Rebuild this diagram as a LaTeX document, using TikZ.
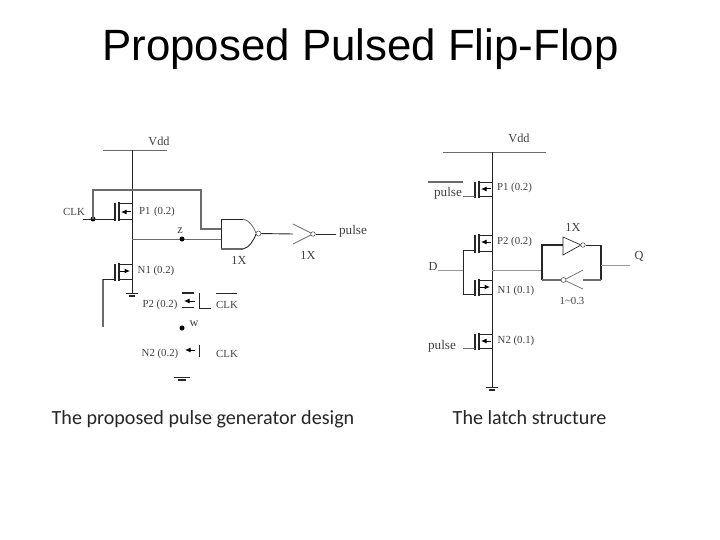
\documentclass[tikz,border=0pt]{standalone}
\usepackage{fontspec}
\setmainfont{Liberation Serif}
\newfontfamily\titlefont{Liberation Sans}
\newfontfamily\capfont{Carlito}
\usetikzlibrary{arrows.meta}
\definecolor{wiregray}{gray}{0.42}
\definecolor{lightwire}{gray}{0.6}
\definecolor{labelgray}{gray}{0.25}
\tikzset{
  wire/.style={draw=black!85,line width=0.9pt},
  thin wire/.style={draw=lightwire,line width=0.8pt},
  thick wire/.style={draw=wiregray,line width=1.4pt},
  bubble/.style={draw=black!70,fill=white,line width=0.5pt},
  tiparrow/.style={draw=black,line width=1pt,-{Latex[length=5.5pt,width=5pt]}},
  lbl/.style={font=\fontsize{12.3}{14}\selectfont,text=labelgray,inner sep=0pt},
  biglbl/.style={font=\fontsize{13.2}{15}\selectfont,text=labelgray,inner sep=0pt},
  fetlbl/.style={font=\fontsize{10.8}{13}\selectfont,text=labelgray,inner sep=0pt},
  dotnode/.style={circle,fill=black,inner sep=0pt,minimum size=5pt},
  captiontext/.style={font=\capfont\fontsize{20.1}{24}\selectfont,text=black!85,inner sep=0pt,anchor=base},
  titletext/.style={font=\titlefont\fontsize{43.8}{50}\selectfont,inner sep=0pt,anchor=base}
}
\newcommand{\fetbody}[4]{%
  \draw[wire] (#1-13,#2) -- (#1,#2) (#1-13,#3) -- (#1,#3);
  \draw[wire,line width=1.1pt] (#1-13,#2-1) -- (#1-13,#3+2);
  \draw[wire,line width=1.1pt] (#1-17,#2) -- (#1-17,#3+2);
  #4
}
\begin{document}
\begin{tikzpicture}[x=1pt,y=-1pt]
\useasboundingbox (0,0) rectangle (720,540);
\fill[white] (0,0) rectangle (720,540);

\node[titletext] (title) at (360.5,61) {Proposed Pulsed Flip-Flop};
\node[captiontext] (capA) at (203,424) {The proposed pulse generator design};
\node[captiontext] (capB) at (529.5,424) {The latch structure};

%%% LEFT: pulse generator
\node[lbl] (vddA) at (159,141) {Vdd};
\coordinate (railAl) at (103,150); \coordinate (railAr) at (167,150);
\draw[thin wire,draw=wiregray] (railAl) -- (railAr);
\draw[wire] (132,150) -- (132,293);
\fetbody{132}{203}{219}{\draw[tiparrow] (131,212) -- (121,212);}
\fetbody{132}{264}{279}{\draw[tiparrow] (120,271) -- (130,271);}
\node[fetlbl] (clkA) at (74,212) {CLK};
\node[fetlbl] (p1A) at (157,212) {P1\,\,(0.2)};
\node[fetlbl] (n1A) at (156,271) {N1 (0.2)};
\node[dotnode] (clkdot) at (93,219) {};
\coordinate (clkin) at (83,219);
\coordinate (gateP) at (115,219);
\draw[wire] (clkin) -- (gateP);
\draw[thick wire] (clkdot.center) -- (93,190) -- (201,190) -- (201,229) -- (221,229);
\draw[thin wire,draw=wiregray] (132,239) -- (221,239);
\node[dotnode,minimum size=5pt] (zdot) at (182,239) {};
\node[lbl] (zl) at (180,231) {z};
\draw[thick wire] (103,327) -- (103,279);
\draw[wire] (103,279) -- (115,279);
% ground N1
\draw[wire] (126,293) -- (138,293);
\draw[wire,line width=1.2pt] (129,296) -- (135,296);
% NAND
\draw[wire] (243,219) -- (221,219) -- (221,249);
\draw[thick wire] (221,249) -- (243,249);
\draw[thin wire,draw=wiregray] (243,219) .. controls (249,220) and (254,227) .. (256,233);
\draw[wire] (243,249) .. controls (249,248) and (254,240) .. (256,234);
\node[bubble,circle,inner sep=0pt,minimum size=5pt] (nandb) at (258.5,233.5) {};
\node[lbl] (x1a) at (239,260) {1X};
% inverter
\coordinate (invin) at (293,234);
\draw[wire] (nandb) -- (invin);
\draw[thin wire,draw=wiregray,line width=0.7pt] (293,224) -- (311,233) (293,244) -- (311,235);
\node[bubble,circle,inner sep=0pt,minimum size=4.5pt] (invb) at (313,234) {};
\coordinate (pulseout) at (336,234);
\draw[wire] (invb) -- (pulseout);
\node[biglbl] (pulseA) at (353,231) {pulse};
\node[lbl] (x1b) at (308,255) {1X};
% P2 fragment
\draw[wire,line width=1.1pt] (182,293) -- (194,293) (182,307.5) -- (194,307.5);
\draw[tiparrow] (195,301) -- (184,301);
\draw[wire,line width=1pt] (199,293) -- (199,308) -- (211,308);
\draw[wire] (216,293) -- (237,293);
\node[fetlbl] (clkB) at (227,305) {CLK};
\node[fetlbl] (p2A) at (160,305) {P2 (0.2)};
\node[dotnode] (wdot) at (182,328) {};
\node[lbl] (wl) at (194,324) {w};
% N2 fragment
\draw[tiparrow] (195,350) -- (185,350);
\draw[wire] (199,345) -- (199,357);
\node[fetlbl] (n2A) at (160,354) {N2 (0.2)};
\node[fetlbl] (clkC) at (227,354) {CLK};
\draw[wire] (174,377) -- (190,377);
\draw[wire,line width=1.4pt] (178,380) -- (186,380);

%%% RIGHT: latch
\node[lbl] (vddB) at (519,138) {Vdd};
\draw[thin wire,draw=wiregray] (443,152) -- (546,152);
\draw[wire] (492,152) -- (492,387);
\fetbody{492}{182}{196}{\draw[tiparrow] (491,189) -- (481,189);}
\fetbody{492}{235}{251}{\draw[tiparrow] (491,242) -- (481,242);}
\fetbody{492}{280}{294}{\draw[tiparrow] (480,287) -- (490,287);}
\fetbody{492}{334}{348}{\draw[tiparrow] (491,341) -- (481,341);}
\draw[thick wire] (428,182) -- (463,182);
\node[biglbl] (pulseB) at (448,193) {pulse};
\draw[thin wire,draw=wiregray] (463,196) -- (475,196);
\node[biglbl] (pulseC) at (442,346) {pulse};
\draw[thin wire,draw=wiregray] (463,348) -- (475,348);
\draw[wire] (475,250) -- (463,250) -- (463,294) -- (475,294);
\draw[thin wire] (438,270) -- (463,270);
\draw[thin wire] (492,270) -- (542,270);
\node[lbl] (dl) at (433,266) {D};
\node[fetlbl] (p1B) at (514.5,188) {P1 (0.2)};
\node[fetlbl] (p2B) at (514.5,242) {P2 (0.2)};
\node[fetlbl] (n1B) at (516,291) {N1 (0.1)};
\node[fetlbl] (n2B) at (516,341) {N2 (0.1)};
\draw[wire] (486,387) -- (498,387);
\draw[wire,line width=1.2pt] (489,390) -- (495,390);
% latch loop
\draw[wire,line width=1.1pt] (563,245) -- (542,245) -- (542,280);
\draw[thick wire] (542,280) -- (561,280);
\draw[wire,line width=0.7pt] (563,237) -- (563,255) -- (581,245) -- cycle;
\node[bubble,circle,inner sep=0pt,minimum size=4.5pt] (invc) at (583,245) {};
\draw[wire] (invc) -- (601,245);
\draw[wire,line width=1.1pt] (601,245) -- (601,280);
\draw[thick wire] (601,280) -- (583,280);
\node[bubble,circle,inner sep=0pt,minimum size=5pt] (tgb) at (563.5,280) {};
\draw[thin wire,draw=wiregray,line width=0.7pt] (566,279) -- (583,270) (566,281) -- (583,289);
\draw[thin wire] (601,265) -- (630,265);
\node[lbl] (ql) at (639,256) {Q};
\node[lbl] (x1c) at (573,227) {1X};
\node[fetlbl] (ratio) at (572,301) {1\textasciitilde0.3};
\end{tikzpicture}
\end{document}
